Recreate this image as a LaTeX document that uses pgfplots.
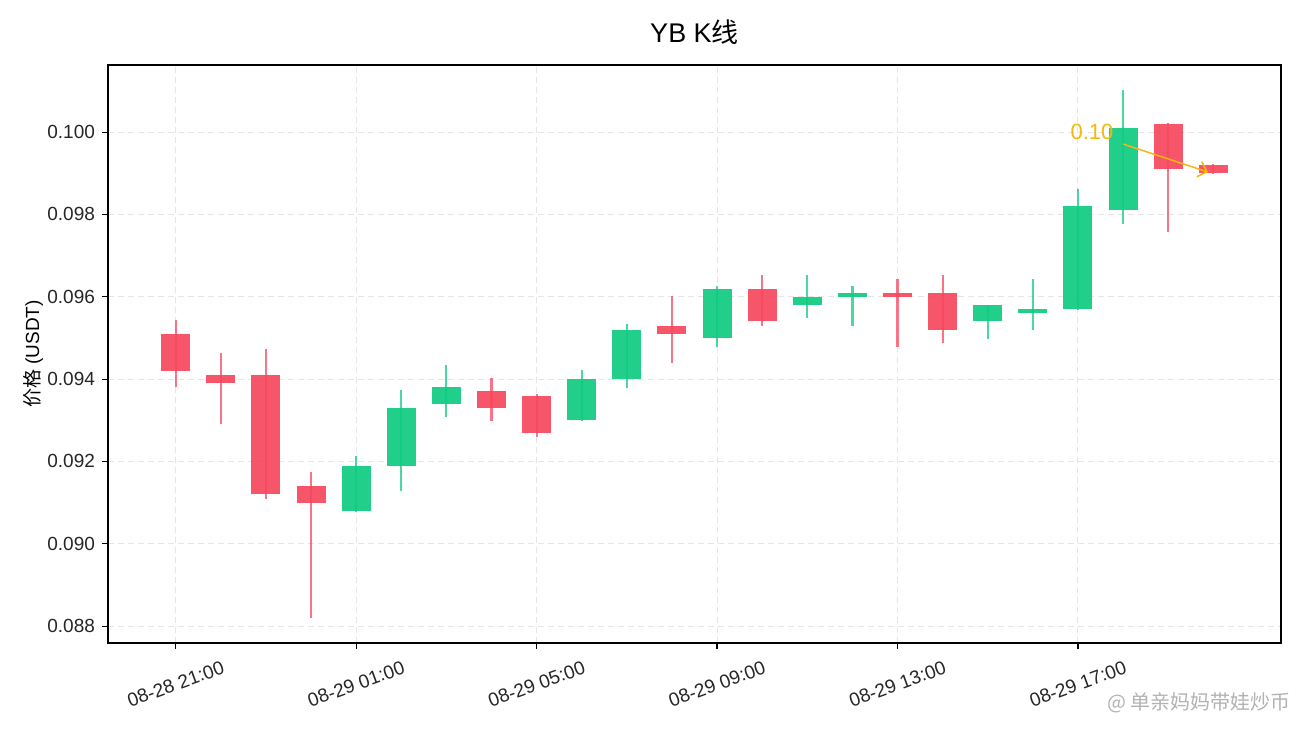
\documentclass[border=0pt]{standalone}
\usepackage{pgfplots}
\pgfplotsset{compat=1.18}
\usepackage{pgfplotstable}
\usepackage{fontspec}
\setmainfont{Liberation Sans}
\newfontfamily\cjk{Noto Sans CJK SC}
\usetikzlibrary{arrows.meta}
\definecolor{cred}{HTML}{F6465D}
\definecolor{cgreen}{HTML}{0ECB81}
\definecolor{cgold}{HTML}{F0B90B}

% falling candles (close < open)
\pgfplotstableread{
x  open    high     low      close
0  0.0951  0.09544  0.0938   0.0942
1  0.0941  0.09464  0.0929   0.0939
2  0.0941  0.09474  0.0911   0.0912
3  0.0914  0.09174  0.0882   0.0910
7  0.0937  0.09403  0.09299  0.0933
8  0.0936  0.09364  0.0926   0.0927
11 0.0953  0.09603  0.0944   0.0951
13 0.0962  0.09652  0.09529  0.0954
16 0.0961  0.09643  0.09478  0.0960
17 0.0961  0.09652  0.09488  0.0952
22 0.1002  0.10023  0.09758  0.0991
23 0.0992  0.09922  0.09899  0.0990
}\redtab

% rising candles (close > open)
\pgfplotstableread{
x  open    high     low      close
4  0.0908  0.09213  0.09078  0.0919
5  0.0919  0.09374  0.09129  0.0933
6  0.0934  0.09435  0.09309  0.0938
9  0.0930  0.09422  0.09298  0.0940
10 0.0940  0.09534  0.09378  0.0952
12 0.0950  0.09625  0.09478  0.0962
14 0.0958  0.09652  0.09549  0.0960
15 0.0960  0.09625  0.09529  0.0961
18 0.0954  0.09581  0.09497  0.0958
19 0.0956  0.09642  0.09519  0.0957
20 0.0957  0.09862  0.09567  0.0982
21 0.0981  0.10103  0.09777  0.1001
}\greentab

\begin{document}
\begin{tikzpicture}
\path[use as bounding box] (0,0) rectangle (650pt,364pt);
\begin{axis}[
  at={(54pt,42.5pt)}, anchor=south west,
  scale only axis, width=586.5pt, height=289pt,
  xmin=-1.5, xmax=24.5, ymin=0.08759, ymax=0.10163,
  xtick={0,4,8,12,16,20},
  xticklabels={08-28 21:00,08-29 01:00,08-29 05:00,08-29 09:00,08-29 13:00,08-29 17:00},
  ytick={0.088,0.090,0.092,0.094,0.096,0.098,0.100},
  scaled y ticks=false,
  y tick label style={/pgf/number format/.cd, fixed, fixed zerofill, precision=3, assume math mode=true},
  tick label style={font=\fontsize{9.5}{11}\selectfont, text=black!85},
  xticklabel style={rotate=20, anchor=center},
  xticklabel shift=17.5pt,
  tick align=outside, tick pos=left,
  major tick length=3pt,
  every tick/.style={black, line width=0.6pt},
  axis line style={black, line width=0.7pt},
  grid=major,
  major grid style={dash pattern=on 3pt off 2pt, color=black!10, line width=0.5pt},
  title={YB K{\cjk 线}},
  title style={font=\fontsize{13.5}{16}\selectfont, at={(rel axis cs:0.5,1)}, anchor=center, yshift=10.5pt},
  ylabel={{\cjk 价格} (USDT)},
  ylabel style={font=\fontsize{9.5}{11}\selectfont, at={([xshift=-37.5pt]rel axis cs:0,0.5)}, anchor=center, rotate=0},
]
% wicks
\addplot[draw=none, mark=none, error bars/.cd, y dir=plus, y explicit,
  error mark=none, error bar style={line width=1.1pt, draw=cred, draw opacity=0.75}]
  table[x=x, y expr=\thisrow{low}, y error plus expr=\thisrow{high}-\thisrow{low}] {\redtab};
\addplot[draw=none, mark=none, error bars/.cd, y dir=plus, y explicit,
  error mark=none, error bar style={line width=1.1pt, draw=cgreen, draw opacity=0.75}]
  table[x=x, y expr=\thisrow{low}, y error plus expr=\thisrow{high}-\thisrow{low}] {\greentab};
% bodies
\addplot[draw=none, mark=none, error bars/.cd, y dir=plus, y explicit,
  error mark=none, error bar style={line width=14.5pt, draw=cred, draw opacity=0.92}]
  table[x=x, y expr=\thisrow{close}, y error plus expr=\thisrow{open}-\thisrow{close}] {\redtab};
\addplot[draw=none, mark=none, error bars/.cd, y dir=plus, y explicit,
  error mark=none, error bar style={line width=14.5pt, draw=cgreen, draw opacity=0.92}]
  table[x=x, y expr=\thisrow{open}, y error plus expr=\thisrow{close}-\thisrow{open}] {\greentab};
% annotation
\draw[cgold, line width=0.75pt, -{Straight Barb[length=4pt]}] (axis cs:21,0.09971) -- (axis cs:22.88,0.09903);
\node[text=cgold, font=\fontsize{11}{13}\selectfont] at (axis cs:20.31,0.1000) {0.10};
\end{axis}
\node[anchor=west, text=black!30, font=\cjk\fontsize{10}{12}\selectfont] at (550pt,12.5pt) {@ 单亲妈妈带娃炒币};
\end{tikzpicture}
\end{document}
